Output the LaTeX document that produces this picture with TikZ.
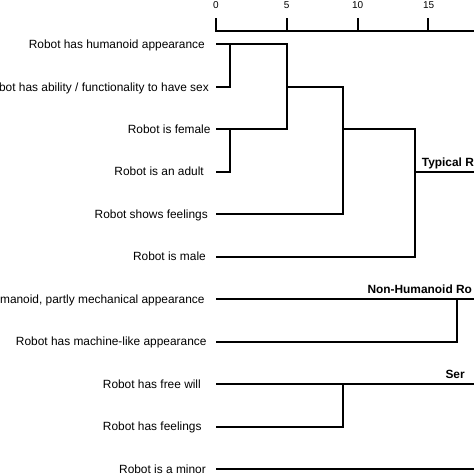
\documentclass[tikz,border=0pt]{standalone}
\usepackage{fontspec}
\setmainfont{Liberation Sans}
\begin{document}
\begin{tikzpicture}[x=1pt,y=-1pt,
  tree/.style={line width=1.8pt,line join=miter,line cap=butt},
  lab/.style={font=\fontsize{11.9}{13}\selectfont,anchor=base east,inner sep=0pt},
  clus/.style={font=\bfseries\fontsize{11.9}{13}\selectfont,anchor=base west,inner sep=0pt},
  tick/.style={font=\fontsize{10}{12}\selectfont,anchor=base,inner sep=0pt}]
\useasboundingbox (0,0) rectangle (474,474);
% leaf start points
\coordinate (a1) at (216,44);
\coordinate (a2) at (216,87.3);
\coordinate (a3) at (216,129.3);
\coordinate (a4) at (216,171.7);
\coordinate (a5) at (216,214.3);
\coordinate (a6) at (216,256.7);
\coordinate (a7) at (216,299.3);
\coordinate (a8) at (216,341.7);
\coordinate (a9) at (216,384.3);
\coordinate (a10) at (216,426.7);
\coordinate (a11) at (216,469.3);
% merge levels
\coordinate (xa) at (230,0);
\coordinate (x5) at (286.7,0);
\coordinate (x9) at (343.3,0);
\coordinate (x14) at (415,0);
\coordinate (x17) at (457.3,0);
\coordinate (xe) at (480,0);
% axis
\coordinate (t0) at (216,18);
\coordinate (t5) at (286.7,18);
\coordinate (t10) at (357.7,18);
\coordinate (t15) at (428.3,18);
\coordinate (ax) at (0,30.7);
\draw[tree] (t0) -- (t0 |- ax) -- (xe |- ax);
\draw[tree] (t5) -- (t5 |- ax);
\draw[tree] (t10) -- (t10 |- ax);
\draw[tree] (t15) -- (t15 |- ax);
\node[tick] (n0) at (216,8.7) {0};
\node[tick] (n5) at (286.7,8.7) {5};
\node[tick] (n10) at (357.7,8.7) {10};
\node[tick] (n15) at (428.6,8.7) {15};
% tree
\draw[tree] (a1) -- (a1 -| x5) -- (a3 -| x5) -- (a3);
\draw[tree] (a1 -| xa) -- (a2 -| xa) -- (a2);
\draw[tree] (a3 -| xa) -- (a4 -| xa) -- (a4);
\draw[tree] (a2 -| x5) -- (a2 -| x9) -- (a5 -| x9) -- (a5);
\draw[tree] (a3 -| x9) -- (a3 -| x14) -- (a6 -| x14) -- (a6);
\draw[tree] (a4 -| x14) -- (a4 -| xe);
\draw[tree] (a7) -- (a7 -| xe);
\draw[tree] (a7 -| x17) -- (a8 -| x17) -- (a8);
\draw[tree] (a9) -- (a9 -| xe);
\draw[tree] (a9 -| x9) -- (a10 -| x9) -- (a10);
\draw[tree] (a11) -- (a11 -| xe);
% labels
\node[lab] (l1) at (205,48.2) {Robot has humanoid appearance};
\node[lab] (l2) at (209,91.5) {Robot has ability / functionality to have sex};
\node[lab] (l3) at (210.7,133.5) {Robot is female};
\node[lab] (l4) at (204,175.9) {Robot is an adult};
\node[lab] (l5) at (208,218.5) {Robot shows feelings};
\node[lab] (l6) at (206,260.9) {Robot is male};
\node[lab] (l7) at (204.7,303.5) {manoid, partly mechanical appearance};
\node[lab] (l8) at (206.7,345.9) {Robot has machine-like appearance};
\node[lab] (l9) at (201,388.5) {Robot has free will};
\node[lab] (l10) at (201.7,430.9) {Robot has feelings};
\node[lab] (l11) at (206,473.5) {Robot is a minor};
\node[clus] (c1) at (421.7,166) {Typical R};
\node[clus] (c2) at (367.3,293.3) {Non-Humanoid Ro};
\node[clus] (c3) at (445.3,378.3) {Ser};
\end{tikzpicture}
\end{document}
